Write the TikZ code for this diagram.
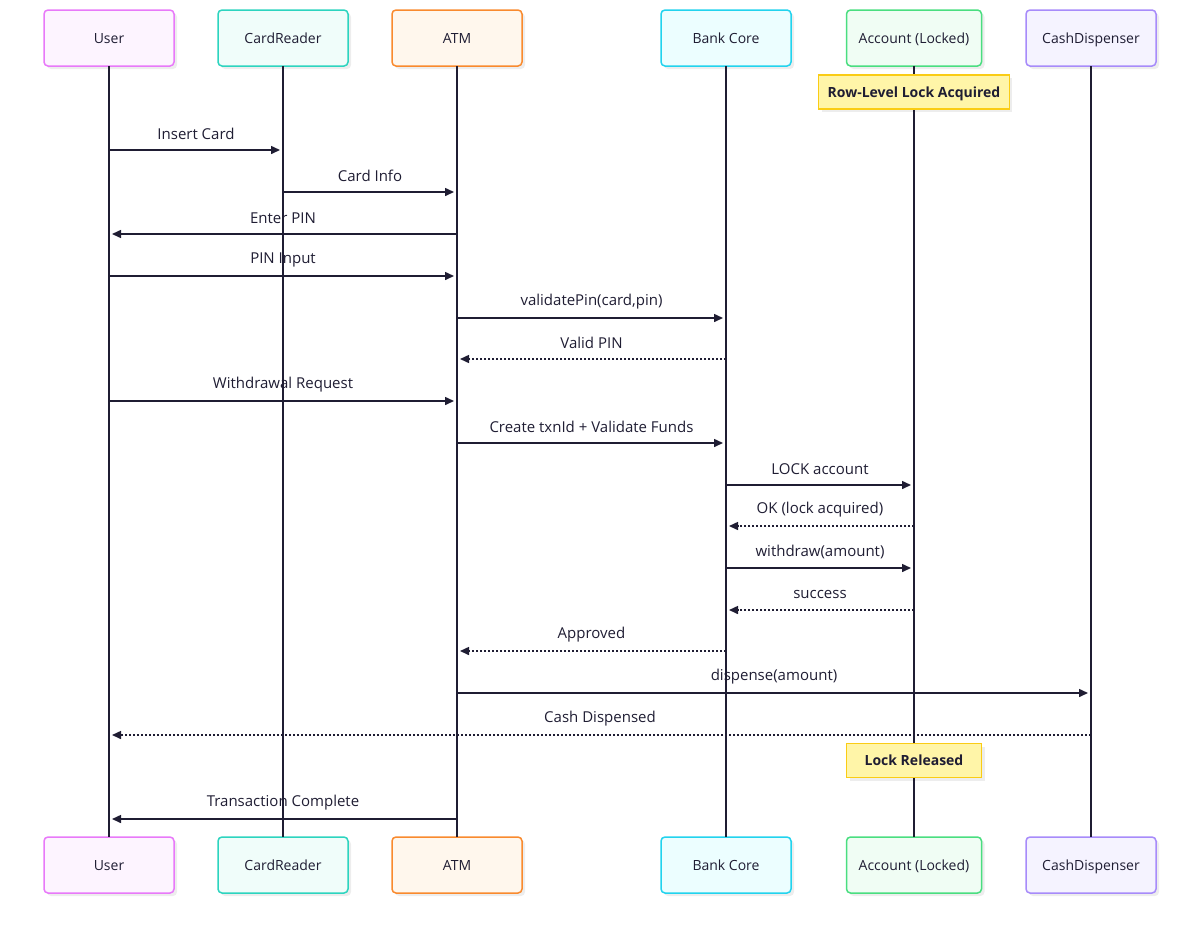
\documentclass[tikz,border=0pt]{standalone}
\usepackage{fontspec}
\setmainfont{Open Sans}
\usetikzlibrary{positioning,arrows.meta,shadows}
\definecolor{ink}{HTML}{1F1D33}
\definecolor{userbd}{HTML}{E879F9}\definecolor{userbg}{HTML}{FDF4FF}
\definecolor{cardreaderbd}{HTML}{2DD4BF}\definecolor{cardreaderbg}{HTML}{F0FDFA}
\definecolor{atmbd}{HTML}{F98A2E}\definecolor{atmbg}{HTML}{FFF7ED}
\definecolor{bankbd}{HTML}{22D3EE}\definecolor{bankbg}{HTML}{ECFEFF}
\definecolor{accountbd}{HTML}{4ADE80}\definecolor{accountbg}{HTML}{F0FDF4}
\definecolor{cashbd}{HTML}{A78BFA}\definecolor{cashbg}{HTML}{F5F3FF}
\definecolor{notebd}{HTML}{FACC15}\definecolor{notebg}{HTML}{FFF5A8}
\tikzset{actor node/.style={draw=#1bd,fill=#1bg,rounded corners=4pt,line width=1.5pt,
    minimum width=130pt,minimum height=56pt,inner sep=0pt,outer sep=0pt,text=ink,
    text height=11pt,text depth=1pt,font=\fontsize{14}{16}\selectfont,
    drop shadow={shadow xshift=3pt,shadow yshift=-3pt,fill=black,opacity=0.07}},
  note node/.style={draw=notebd,fill=notebg,line width=1.5pt,minimum height=34pt,
    inner xsep=9pt,outer sep=0pt,text=ink,text height=11pt,text depth=1pt,
    font=\fontsize{14}{16}\selectfont\bfseries,
    drop shadow={shadow xshift=3pt,shadow yshift=-3pt,fill=black,opacity=0.07}},
  lifeline/.style={ink,line width=1.6pt},
  msg/.style={ink,line width=1.5pt,-{Triangle[length=9pt,width=8pt]},shorten >=3pt},
  reply/.style={msg,dash pattern=on 2pt off 2pt},
  msg label/.style={midway,yshift=16pt,text=ink,font=\fontsize{15}{17}\selectfont},
}

\begin{document}
\begin{tikzpicture}[x=1pt,y=-1pt]
  \useasboundingbox (0,0) rectangle (1200,930);
  % actors on top
  \node[actor node=user] (user) at (109,38) {User};
  \node[actor node=cardreader] (cardreader) [right=44pt of user] {CardReader};
  \node[actor node=atm] (atm) [right=44pt of cardreader] {ATM};
  \node[actor node=bank] (bank) [right=139pt of atm] {Bank Core};
  \node[actor node=account,minimum width=135pt] (account) [right=55.5pt of bank] {Account (Locked)};
  \node[actor node=cash] (cash) [right=44.5pt of account] {CashDispenser};

  % actors at the bottom and lifelines
  \foreach \n/\t/\w in {user/User/130,cardreader/CardReader/130,atm/ATM/130,
      bank/Bank Core/130,account/Account (Locked)/135,cash/CashDispenser/130}{
    \node[actor node=\n,minimum width=\w pt] (\n-b) [below=771pt of \n] {\t};
    \draw[lifeline] (\n) -- (\n-b);
  }

  % messages
  \foreach \y/\a/\b/\s/\t in {
      150/user/cardreader/msg/Insert Card,
      192/cardreader/atm/msg/Card Info,
      234/atm/user/msg/Enter PIN,
      276/user/atm/msg/PIN Input,
      318/atm/bank/msg/{validatePin(card,pin)},
      359/bank/atm/reply/Valid PIN,
      401/user/atm/msg/Withdrawal Request,
      443/atm/bank/msg/Create txnId + Validate Funds,
      485/bank/account/msg/LOCK account,
      526/account/bank/reply/OK (lock acquired),
      568/bank/account/msg/withdraw(amount),
      610/account/bank/reply/success,
      651/bank/atm/reply/Approved,
      693/atm/cash/msg/dispense(amount),
      735/cash/user/reply/Cash Dispensed,
      819/atm/user/msg/Transaction Complete}{
    \draw[\s] (\a |- 0,\y) -- (\b |- 0,\y) node[msg label] {\t};
  }

  % notes
  \node[note node] (lock-on) at (account |- 0,92) {Row-Level Lock Acquired};
  \node[note node,minimum width=135pt] (lock-off) at (account |- 0,760.5) {Lock Released};
\end{tikzpicture}
\end{document}
